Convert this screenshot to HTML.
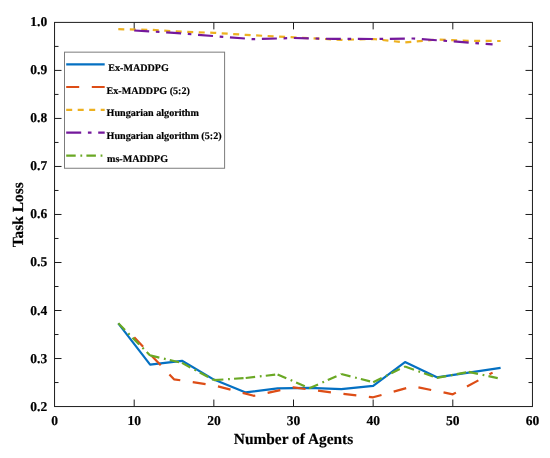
<!DOCTYPE html>
<html lang="en">
<head>
<meta charset="utf-8">
<title>Task Loss vs Number of Agents</title>
<style>
html,body{margin:0;padding:0;background:#fff;}
body{width:550px;height:458px;overflow:hidden;}
svg{display:block;}
text{text-rendering:geometricPrecision;font-family:"Liberation Serif","Times New Roman",Times,serif;font-weight:bold;fill:#000;stroke:#000;stroke-width:0.18px;}
.tk{font-size:13.5px;}
.lb{font-size:15.4px;}
.lg{font-size:10.1px;}
</style>
</head>
<body>
<svg width="550" height="458" viewBox="0 0 550 458">
<rect x="0" y="0" width="550" height="458" fill="#ffffff"/>

<g stroke="#1c1c1c" stroke-width="1" fill="none">
<path d="M54.5 382.54h4M532.5 382.54h-4"/>
<path d="M54.5 358.53h7M532.5 358.53h-7"/>
<path d="M54.5 334.52h4M532.5 334.52h-4"/>
<path d="M54.5 310.51h7M532.5 310.51h-7"/>
<path d="M54.5 286.50h4M532.5 286.50h-4"/>
<path d="M54.5 262.49h7M532.5 262.49h-7"/>
<path d="M54.5 238.48h4M532.5 238.48h-4"/>
<path d="M54.5 214.47h7M532.5 214.47h-7"/>
<path d="M54.5 190.47h4M532.5 190.47h-4"/>
<path d="M54.5 166.46h7M532.5 166.46h-7"/>
<path d="M54.5 142.45h4M532.5 142.45h-4"/>
<path d="M54.5 118.44h7M532.5 118.44h-7"/>
<path d="M54.5 94.43h4M532.5 94.43h-4"/>
<path d="M54.5 70.42h7M532.5 70.42h-7"/>
<path d="M54.5 46.41h4M532.5 46.41h-4"/>
<path d="M134.20 406.55v-7M134.20 22.40v7"/>
<path d="M213.85 406.55v-7M213.85 22.40v7"/>
<path d="M293.50 406.55v-7M293.50 22.40v7"/>
<path d="M373.15 406.55v-7M373.15 22.40v7"/>
<path d="M452.80 406.55v-7M452.80 22.40v7"/>
<rect x="54.55" y="22.4" width="477.90" height="384.15"/>
</g>
<g fill="none" stroke-width="2.2" stroke-linejoin="round">
<polyline points="118.3,323.3 150.1,364.7 182.0,360.8 213.9,379.6 245.7,392.4 277.6,388.3 309.4,387.8 341.3,389.1 373.2,385.8 405.0,362.1 436.9,377.3 468.7,372.6 500.6,367.8" stroke="#0470c2"/>
<polyline points="134.2,337.3 174.0,379.3 213.9,385.3 253.7,395.8 293.5,387.4 333.3,392.7 373.2,397.3 413.0,386.3 452.8,394.3 492.6,372.6" stroke="#dd4d16" stroke-dasharray="13 12.6"/>
<polyline points="118.3,29.2 150.1,29.8 182.0,31.7 213.9,32.8 245.7,34.9 277.6,36.5 309.4,38.2 341.3,39.8 373.2,39.0 405.0,42.5 436.9,39.5 468.7,40.8 500.6,41.0" stroke="#edb120" stroke-dasharray="6 5.5"/>
<polyline points="134.2,30.5 174.0,32.8 213.9,36.1 253.7,39.2 293.5,38.0 333.3,38.9 373.2,39.0 413.0,38.5 452.8,41.4 492.6,44.3" stroke="#74189c" stroke-dasharray="15 6.7 3.6 6.7"/>
<path d="M118.3 323.3L150.1 355.4M150.1 355.4L182.0 362.9M182.0 362.9L213.9 380.1M213.9 380.1L245.7 378.0M245.7 378.0L277.6 374.4M277.6 374.4L309.4 388.3M309.4 388.3L341.3 374.0M341.3 374.0L373.2 382.2M373.2 382.2L405.0 366.5M405.0 366.5L436.9 377.8M436.9 377.8L468.7 371.9M468.7 371.9L500.6 378.7" stroke="#6aa824" stroke-dasharray="9.5 4.7 1.8 4.2"/>
</g>
<rect x="64.5" y="52.15" width="160.1" height="116.1" fill="#ffffff" stroke="#7c7c7c" stroke-width="1"/>
<g fill="none" stroke-width="2.2">
<path d="M66.2 64.4H104.7" stroke="#0470c2"/>
<path d="M66.2 87.0H104.7" stroke="#dd4d16" stroke-dasharray="13 12.6"/>
<path d="M66.2 109.9H104.7" stroke="#edb120" stroke-dasharray="6 5.5"/>
<path d="M66.2 132.7H104.7" stroke="#74189c" stroke-dasharray="15 6.7 3.6 6.7"/>
<path d="M66.2 155.6H104.7" stroke="#6aa824" stroke-dasharray="9.5 4.7 1.8 4.2"/>
</g>
<text class="lg" x="108.3" y="70.6">Ex-MADDPG</text>
<text class="lg" x="106.6" y="93.5">Ex-MADDPG (5:2)</text>
<text class="lg" x="106.6" y="116.3">Hungarian algorithm</text>
<text class="lg" x="106.6" y="139.2">Hungarian algorithm (5:2)</text>
<text class="lg" x="107.0" y="162.0">ms-MADDPG</text>
<text class="tk" x="47.2" y="410.55" text-anchor="end">0.2</text>
<text class="tk" x="47.2" y="362.53" text-anchor="end">0.3</text>
<text class="tk" x="47.2" y="314.51" text-anchor="end">0.4</text>
<text class="tk" x="47.2" y="266.49" text-anchor="end">0.5</text>
<text class="tk" x="47.2" y="218.47" text-anchor="end">0.6</text>
<text class="tk" x="47.2" y="170.46" text-anchor="end">0.7</text>
<text class="tk" x="47.2" y="122.44" text-anchor="end">0.8</text>
<text class="tk" x="47.2" y="74.42" text-anchor="end">0.9</text>
<text class="tk" x="47.2" y="26.40" text-anchor="end">1.0</text>
<text class="tk" x="54.5" y="425.1" text-anchor="middle">0</text>
<text class="tk" x="134.2" y="425.1" text-anchor="middle">10</text>
<text class="tk" x="213.9" y="425.1" text-anchor="middle">20</text>
<text class="tk" x="293.5" y="425.1" text-anchor="middle">30</text>
<text class="tk" x="373.2" y="425.1" text-anchor="middle">40</text>
<text class="tk" x="452.8" y="425.1" text-anchor="middle">50</text>
<text class="tk" x="532.5" y="425.1" text-anchor="middle">60</text>
<text class="lb" x="293.5" y="444.3" text-anchor="middle">Number of Agents</text>
<text class="lb" transform="translate(22.8 214.8) rotate(-90)" text-anchor="middle">Task Loss</text>
</svg>
</body>
</html>
